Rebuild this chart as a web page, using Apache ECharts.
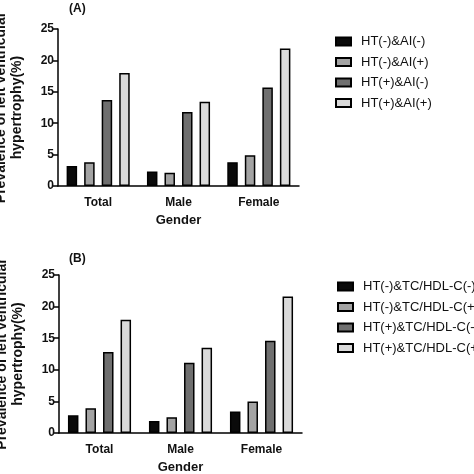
<!DOCTYPE html>
<html>
<head>
<meta charset="utf-8">
<script src="https://cdn.jsdelivr.net/npm/echarts@6/dist/echarts.min.js"></script>
<style>
  html, body { margin: 0; padding: 0; background: #fff; }
  #main { width: 474px; height: 474px; }
</style>
</head>
<body>
<div id="main"></div>
<script>
// categories on x axis
var genders = ['Total', 'Male', 'Female'];

// panel A groups
var namesA = ['HT(-)&AI(-)', 'HT(-)&AI(+)', 'HT(+)&AI(-)', 'HT(+)&AI(+)'];
var a_htNeg_aiNeg = [3.2, 2.3, 3.8];
var a_htNeg_aiPos = [3.8, 2.1, 4.9];
var a_htPos_aiNeg = [13.7, 11.8, 15.7];
var a_htPos_aiPos = [18.0, 13.4, 21.9];

// panel B groups
var namesB = ['HT(-)&TC/HDL-C(-)', 'HT(-)&TC/HDL-C(+)', 'HT(+)&TC/HDL-C(-)', 'HT(+)&TC/HDL-C(+)'];
var b_htNeg_tcNeg = [2.8, 1.9, 3.4];
var b_htNeg_tcPos = [3.9, 2.5, 5.0];
var b_htPos_tcNeg = [12.8, 11.1, 14.6];
var b_htPos_tcPos = [17.9, 13.5, 21.6];

var fills = ['#0a0a0a', '#a3a3a3', '#6f6f6f', '#dadada'];
var font = 'Liberation Sans, Arial, sans-serif';

var myChart = echarts.init(document.getElementById('main'));

function mkBars(names, arrs, idx) {
	var out = [];
	for (var i = 0; i < arrs.length; i++) {
		out.push({
			name: names[i],
			type: 'bar',
			xAxisIndex: idx,
			yAxisIndex: idx,
			barWidth: 10.5,
			barGap: '67%',
			itemStyle: {
				color: fills[i],
				borderColor: '#000',
				borderWidth: 1.5
			},
			data: arrs[i]
		});
	}
	return out;
}

function xAx(idx) {
	return {
		type: 'category',
		gridIndex: idx,
		data: genders,
		name: 'Gender',
		nameLocation: 'middle',
		nameGap: 28,
		nameTextStyle: { color: '#111', fontSize: 13, fontWeight: 'bold', fontFamily: font },
		axisLine: { lineStyle: { color: '#000', width: 1.5 } },
		axisTick: { alignWithLabel: true, length: 5, lineStyle: { color: '#000', width: 1.5 } },
		axisLabel: { color: '#111', fontSize: 12, fontWeight: 'bold', fontFamily: font, margin: 11 }
	};
}

function yAx(idx) {
	return {
		type: 'value',
		gridIndex: idx,
		min: 0,
		max: 25,
		interval: 5,
		name: 'Prevalence of left ventricular\nhypertrophy(%)',
		nameLocation: 'middle',
		nameRotate: 90,
		nameGap: 33,
		nameTextStyle: { color: '#111', fontSize: 14, fontWeight: 'bold', fontFamily: font, lineHeight: 16 },
		splitLine: { show: false },
		axisLine: { show: true, lineStyle: { color: '#000', width: 1.5 } },
		axisTick: { show: true, length: 5, lineStyle: { color: '#000', width: 1.5 } },
		axisLabel: { color: '#111', fontSize: 12, fontWeight: 'bold', fontFamily: font, margin: 4 }
	};
}

function legendOf(names, top, left) {
	return {
		orient: 'vertical',
		left: left,
		top: top,
		data: names,
		icon: 'rect',
		itemWidth: 15,
		itemHeight: 8,
		itemGap: 7.5,
		textStyle: { color: '#111', fontSize: 13, fontFamily: font, padding: [0, 0, 0, 5] }
	};
}

var option = {
	animation: false,
	backgroundColor: '#fff',
	title: [
		{ text: '(A)', left: 64, top: -2, textStyle: { fontSize: 12, fontWeight: 'bold', color: '#111', fontFamily: font } },
		{ text: '(B)', left: 64, top: 248, textStyle: { fontSize: 12, fontWeight: 'bold', color: '#111', fontFamily: font } }
	],
	legend: [legendOf(namesA, 30, 330), legendOf(namesB, 275, 332)],
	grid: [
		{ left: 58, top: 29, right: 175, height: 157, outerBoundsMode: 'none' },
		{ left: 59, top: 275, right: 172, height: 158, outerBoundsMode: 'none' }
	],
	xAxis: [xAx(0), xAx(1)],
	yAxis: [yAx(0), yAx(1)],
	series: mkBars(namesA, [a_htNeg_aiNeg, a_htNeg_aiPos, a_htPos_aiNeg, a_htPos_aiPos], 0)
		.concat(mkBars(namesB, [b_htNeg_tcNeg, b_htNeg_tcPos, b_htPos_tcNeg, b_htPos_tcPos], 1))
};

myChart.setOption(option);
</script>
</body>
</html>
